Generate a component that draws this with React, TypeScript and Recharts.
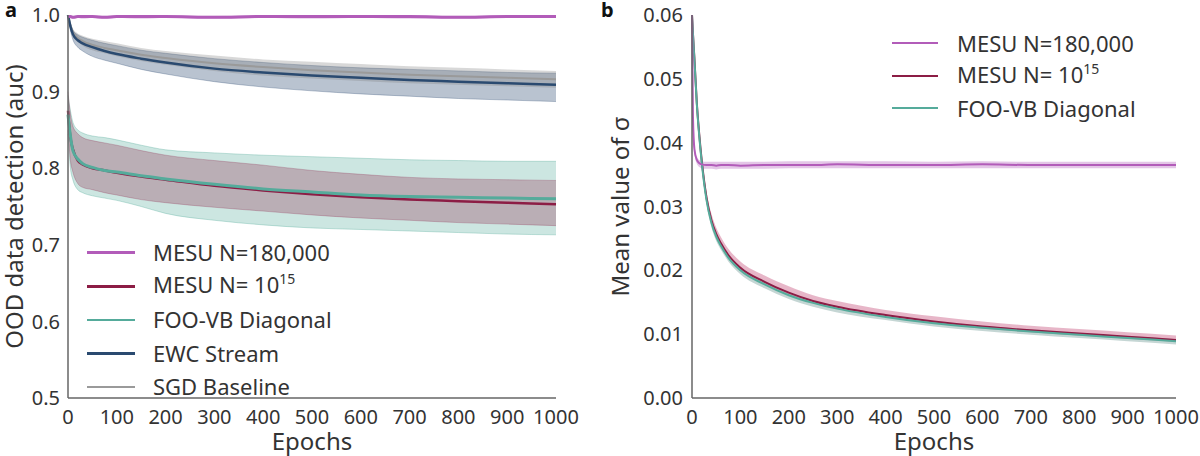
import React from "react";
import { Area, ComposedChart, Label, Legend, Line, XAxis, YAxis } from "recharts";

const FONT = "'Noto Sans', 'Open Sans', sans-serif";

const PURPLE = "#b25cb9";
const MAROON = "#8c1d45";
const TEAL = "#55ab9b";
const NAVY = "#2a4a70";
const GRAY = "#9a9a9a";

const xTicks = [0, 100, 200, 300, 400, 500, 600, 700, 800, 900, 1000];
const oodTicks = [0.5, 0.6, 0.7, 0.8, 0.9, 1.0];
const sigmaTicks = [0, 0.01, 0.02, 0.03, 0.04, 0.05, 0.06];

// panel a: OOD detection (auc)
const epochsA = [0, 5, 10, 20, 30, 50, 75, 100, 150, 200, 300, 400, 500, 600, 700, 800, 900, 1000];
const mesu180kA = [0.998, 0.998, 0.997, 0.998, 0.998, 0.998, 0.997, 0.998, 0.998, 0.998, 0.997, 0.998, 0.998, 0.998, 0.998, 0.997, 0.998, 0.998];
const mesu180kLoA = [0.995, 0.995, 0.995, 0.996, 0.995, 0.996, 0.995, 0.996, 0.995, 0.996, 0.995, 0.996, 0.995, 0.996, 0.995, 0.995, 0.996, 0.996];
const mesu180kHiA = [1.0, 1.0, 0.999, 1.0, 1.0, 1.0, 0.999, 1.0, 1.0, 1.0, 0.999, 1.0, 1.0, 1.0, 1.0, 0.999, 1.0, 1.0];
const mesu1e15A = [0.875, 0.84, 0.825, 0.81, 0.805, 0.8, 0.797, 0.794, 0.789, 0.785, 0.777, 0.771, 0.766, 0.762, 0.759, 0.757, 0.755, 0.753];
const mesu1e15LoA = [0.85, 0.81, 0.795, 0.78, 0.775, 0.772, 0.768, 0.765, 0.759, 0.755, 0.749, 0.744, 0.739, 0.735, 0.732, 0.729, 0.727, 0.725];
const mesu1e15HiA = [0.9, 0.87, 0.855, 0.845, 0.84, 0.836, 0.833, 0.83, 0.823, 0.817, 0.81, 0.804, 0.797, 0.792, 0.788, 0.786, 0.785, 0.784];
const fooVbA = [0.87, 0.842, 0.823, 0.812, 0.806, 0.801, 0.797, 0.795, 0.79, 0.786, 0.779, 0.773, 0.769, 0.765, 0.763, 0.762, 0.761, 0.76];
const fooVbLoA = [0.845, 0.8, 0.785, 0.772, 0.768, 0.764, 0.761, 0.758, 0.75, 0.741, 0.732, 0.726, 0.722, 0.72, 0.718, 0.716, 0.714, 0.713];
const fooVbHiA = [0.895, 0.875, 0.86, 0.85, 0.846, 0.842, 0.84, 0.837, 0.83, 0.824, 0.82, 0.817, 0.815, 0.813, 0.811, 0.81, 0.809, 0.809];
const ewcA = [1.0, 0.985, 0.975, 0.967, 0.963, 0.958, 0.953, 0.949, 0.943, 0.938, 0.93, 0.925, 0.921, 0.918, 0.915, 0.913, 0.911, 0.909];
const ewcLoA = [1.0, 0.98, 0.968, 0.958, 0.953, 0.946, 0.941, 0.937, 0.929, 0.923, 0.913, 0.906, 0.901, 0.897, 0.894, 0.891, 0.889, 0.887];
const ewcHiA = [1.0, 0.988, 0.98, 0.974, 0.971, 0.967, 0.963, 0.96, 0.954, 0.95, 0.943, 0.938, 0.934, 0.931, 0.929, 0.927, 0.925, 0.924];
const sgdA = [1.0, 0.987, 0.978, 0.97, 0.966, 0.961, 0.957, 0.954, 0.948, 0.944, 0.937, 0.932, 0.928, 0.925, 0.922, 0.92, 0.918, 0.916];
const sgdLoA = [1.0, 0.984, 0.973, 0.965, 0.96, 0.954, 0.95, 0.946, 0.94, 0.935, 0.927, 0.921, 0.917, 0.914, 0.911, 0.909, 0.907, 0.905];
const sgdHiA = [1.0, 0.99, 0.982, 0.976, 0.973, 0.969, 0.966, 0.963, 0.957, 0.953, 0.947, 0.942, 0.939, 0.936, 0.933, 0.931, 0.929, 0.927];

// panel b: mean value of sigma
const epochsB = [0, 2, 5, 10, 15, 20, 30, 40, 50, 60, 75, 100, 150, 200, 250, 300, 400, 500, 600, 700, 800, 900, 1000];
const mesu180kB = [0.06, 0.044, 0.039, 0.0373, 0.0368, 0.0366, 0.0365, 0.0365, 0.0364, 0.0365, 0.0365, 0.0364, 0.0365, 0.0365, 0.0365, 0.0366, 0.0365, 0.0365, 0.0366, 0.0365, 0.0365, 0.0365, 0.0365];
const mesu180kLoB = [0.0598, 0.0435, 0.0384, 0.0367, 0.0362, 0.036, 0.0359, 0.0359, 0.0358, 0.0359, 0.0359, 0.0359, 0.0359, 0.036, 0.036, 0.036, 0.036, 0.036, 0.036, 0.036, 0.036, 0.036, 0.036];
const mesu180kHiB = [0.0602, 0.0446, 0.0396, 0.0378, 0.0373, 0.0371, 0.037, 0.037, 0.037, 0.037, 0.037, 0.037, 0.037, 0.0371, 0.0371, 0.0371, 0.0371, 0.037, 0.0371, 0.037, 0.037, 0.037, 0.037];
const mesu1e15B = [0.06, 0.057, 0.0532, 0.0462, 0.0413, 0.0373, 0.0314, 0.0279, 0.0257, 0.0242, 0.0224, 0.0204, 0.0182, 0.0165, 0.0152, 0.0143, 0.013, 0.012, 0.0112, 0.0106, 0.0101, 0.0096, 0.0091];
const mesu1e15LoB = [0.0598, 0.0567, 0.0529, 0.0459, 0.041, 0.037, 0.0311, 0.0276, 0.0254, 0.0239, 0.0221, 0.0201, 0.0179, 0.0162, 0.0149, 0.014, 0.0127, 0.0117, 0.0109, 0.0103, 0.0098, 0.0093, 0.0088];
const mesu1e15HiB = [0.0603, 0.0576, 0.054, 0.0472, 0.0423, 0.0383, 0.0324, 0.0289, 0.0267, 0.0252, 0.0234, 0.0214, 0.0192, 0.0175, 0.0161, 0.0152, 0.0138, 0.0128, 0.012, 0.0113, 0.0108, 0.0103, 0.0098];
const fooVbB = [0.06, 0.057, 0.053, 0.046, 0.041, 0.037, 0.031, 0.0275, 0.0253, 0.0238, 0.022, 0.02, 0.0178, 0.0161, 0.0149, 0.014, 0.0127, 0.0117, 0.011, 0.0104, 0.0099, 0.0094, 0.0089];
const fooVbLoB = [0.0598, 0.0565, 0.0523, 0.0453, 0.0403, 0.0363, 0.0303, 0.0268, 0.0246, 0.0232, 0.0214, 0.0194, 0.0172, 0.0155, 0.0143, 0.0134, 0.0122, 0.0112, 0.0105, 0.0099, 0.0094, 0.0089, 0.0084];
const fooVbHiB = [0.0602, 0.0574, 0.0535, 0.0465, 0.0415, 0.0375, 0.0315, 0.028, 0.0258, 0.0242, 0.0224, 0.0204, 0.0181, 0.0164, 0.0152, 0.0143, 0.013, 0.012, 0.0113, 0.0107, 0.0102, 0.0097, 0.0092];

const namesA = ["MESU N=180,000", "MESU N= 10^15", "FOO-VB Diagonal", "EWC Stream", "SGD Baseline"];
const namesB = ["MESU N=180,000", "MESU N= 10^15", "FOO-VB Diagonal"];

const rowsA = epochsA.map((epoch, i) => ({
  epoch,
  mesu180k: mesu180kA[i],
  mesu180kBand: [mesu180kLoA[i], mesu180kHiA[i]],
  mesu1e15: mesu1e15A[i],
  mesu1e15Band: [mesu1e15LoA[i], mesu1e15HiA[i]],
  fooVb: fooVbA[i],
  fooVbBand: [fooVbLoA[i], fooVbHiA[i]],
  ewc: ewcA[i],
  ewcBand: [ewcLoA[i], ewcHiA[i]],
  sgd: sgdA[i],
  sgdBand: [sgdLoA[i], sgdHiA[i]],
}));

const rowsB = epochsB.map((epoch, i) => ({
  epoch,
  mesu180k: mesu180kB[i],
  mesu180kBand: [mesu180kLoB[i], mesu180kHiB[i]],
  mesu1e15: mesu1e15B[i],
  mesu1e15Band: [mesu1e15LoB[i], mesu1e15HiB[i]],
  fooVb: fooVbB[i],
  fooVbBand: [fooVbLoB[i], fooVbHiB[i]],
}));

const tickStyle = { fill: "#333", fontSize: 20, fontFamily: FONT };
const axisLine = { stroke: "#666", strokeWidth: 1.5 };
const labelStyle = { fill: "#333", fontSize: 24, fontFamily: FONT, textAnchor: "middle" as const };

function renderName(name: string) {
  const [base, exp] = name.split("^");
  if (!exp) return base;
  return (
    <>
      {base}
      <span style={{ fontSize: 14, position: "relative", top: -9 }}>{exp}</span>
    </>
  );
}

interface LegendItem {
  name: string;
  color: string;
  width: number;
}

function LegendList({ items, rowHeight, lineLength, gap }: { items: LegendItem[]; rowHeight: number; lineLength: number; gap: number }) {
  return (
    <div style={{ fontFamily: FONT, fontSize: 22, color: "#333" }}>
      {items.map((item) => (
        <div key={item.name} style={{ display: "flex", alignItems: "center", height: rowHeight, whiteSpace: "nowrap" }}>
          <div style={{ width: lineLength, height: item.width, background: item.color, marginRight: gap }} />
          <span style={{ lineHeight: `${rowHeight}px` }}>{renderName(item.name)}</span>
        </div>
      ))}
    </div>
  );
}

const legendItemsA: LegendItem[] = [
  { name: namesA[0], color: PURPLE, width: 3 },
  { name: namesA[1], color: MAROON, width: 2.5 },
  { name: namesA[2], color: TEAL, width: 2.5 },
  { name: namesA[3], color: NAVY, width: 2.5 },
  { name: namesA[4], color: GRAY, width: 2.5 },
];

const legendItemsB: LegendItem[] = [
  { name: namesB[0], color: PURPLE, width: 2 },
  { name: namesB[1], color: MAROON, width: 2 },
  { name: namesB[2], color: TEAL, width: 2 },
];

function PanelA() {
  return (
    <ComposedChart width={600} height={456} data={rowsA} margin={{ top: 15, right: 44, bottom: 0, left: 0 }}>
      <XAxis
        dataKey="epoch"
        type="number"
        domain={[0, 1000]}
        ticks={xTicks}
        interval={0}
        height={58}
        tickLine={false}
        tickMargin={6}
        axisLine={axisLine}
        tick={tickStyle}
      >
        <Label value="Epochs" position="insideBottom" offset={6} style={labelStyle} />
      </XAxis>
      <YAxis
        type="number"
        domain={[0.5, 1.0]}
        ticks={oodTicks}
        interval={0}
        width={68}
        tickLine={false}
        tickMargin={2}
        axisLine={axisLine}
        tick={tickStyle}
        tickFormatter={(v: number) => v.toFixed(1)}
        allowDataOverflow
      >
        <Label value="OOD data detection (auc)" angle={-90} position="insideLeft" offset={14} style={labelStyle} />
      </YAxis>
      <Area dataKey="fooVbBand" type="monotone" fill={TEAL} fillOpacity={0.3} stroke={TEAL} strokeOpacity={0.35} strokeWidth={1} isAnimationActive={false} />
      <Area dataKey="mesu1e15Band" type="monotone" fill={MAROON} fillOpacity={0.28} stroke={MAROON} strokeOpacity={0.25} strokeWidth={1} isAnimationActive={false} />
      <Area dataKey="ewcBand" type="monotone" fill={NAVY} fillOpacity={0.33} stroke={NAVY} strokeOpacity={0.3} strokeWidth={1} isAnimationActive={false} />
      <Area dataKey="sgdBand" type="monotone" fill="#7d7d7d" fillOpacity={0.3} stroke="none" isAnimationActive={false} />
      <Area dataKey="mesu180kBand" type="monotone" fill={PURPLE} fillOpacity={0.3} stroke="none" isAnimationActive={false} />
      <Line dataKey="sgd" type="monotone" stroke={GRAY} strokeWidth={2} dot={false} isAnimationActive={false} />
      <Line dataKey="ewc" type="monotone" stroke={NAVY} strokeWidth={2.5} dot={false} isAnimationActive={false} />
      <Line dataKey="mesu1e15" type="monotone" stroke={MAROON} strokeWidth={2.5} dot={false} isAnimationActive={false} />
      <Line dataKey="fooVb" type="monotone" stroke={TEAL} strokeWidth={3} dot={false} isAnimationActive={false} />
      <Line dataKey="mesu180k" type="monotone" stroke={PURPLE} strokeWidth={3} dot={false} isAnimationActive={false} />
      <Legend
        layout="vertical"
        align="center"
        verticalAlign="middle"
        wrapperStyle={{ left: 87, top: 236, width: 320 }}
        content={() => <LegendList items={legendItemsA} rowHeight={33.5} lineLength={48} gap={18} />}
      />
    </ComposedChart>
  );
}

function PanelB() {
  return (
    <ComposedChart width={600} height={456} data={rowsB} margin={{ top: 15, right: 24, bottom: 0, left: 0 }}>
      <XAxis
        dataKey="epoch"
        type="number"
        domain={[0, 1000]}
        ticks={xTicks}
        interval={0}
        height={58}
        tickLine={false}
        tickMargin={6}
        axisLine={axisLine}
        tick={tickStyle}
      >
        <Label value="Epochs" position="insideBottom" offset={6} style={labelStyle} />
      </XAxis>
      <YAxis
        type="number"
        domain={[0, 0.06]}
        ticks={sigmaTicks}
        interval={0}
        width={92}
        tickLine={false}
        tickMargin={3}
        axisLine={axisLine}
        tick={tickStyle}
        tickFormatter={(v: number) => v.toFixed(2)}
        allowDataOverflow
      >
        <Label value="Mean value of σ" angle={-90} position="insideLeft" offset={20} style={labelStyle} />
      </YAxis>
      <Area dataKey="fooVbBand" type="monotone" fill="#6f9993" fillOpacity={0.4} stroke="none" isAnimationActive={false} />
      <Area dataKey="mesu1e15Band" type="monotone" fill="#c0406e" fillOpacity={0.38} stroke="none" isAnimationActive={false} />
      <Area dataKey="mesu180kBand" type="monotone" fill={PURPLE} fillOpacity={0.35} stroke="none" isAnimationActive={false} />
      <Line dataKey="mesu1e15" type="monotone" stroke={MAROON} strokeWidth={2} dot={false} isAnimationActive={false} />
      <Line dataKey="fooVb" type="monotone" stroke={TEAL} strokeWidth={2} dot={false} isAnimationActive={false} />
      <Line dataKey="mesu180k" type="monotone" stroke={PURPLE} strokeWidth={2} dot={false} isAnimationActive={false} />
      <Legend
        layout="vertical"
        align="center"
        verticalAlign="middle"
        wrapperStyle={{ left: 292, top: 27, width: 300 }}
        content={() => <LegendList items={legendItemsB} rowHeight={32.5} lineLength={46} gap={19} />}
      />
    </ComposedChart>
  );
}

export default function App() {
  const letter: React.CSSProperties = {
    position: "absolute",
    top: 0,
    fontFamily: FONT,
    fontWeight: 700,
    fontSize: 20,
    lineHeight: "20px",
    color: "#111",
  };
  return (
    <div style={{ position: "absolute", left: 0, top: 0, width: 1200, height: 456, background: "#fff" }}>
      <div style={{ position: "absolute", left: 0, top: 0 }}>
        <PanelA />
      </div>
      <div style={{ position: "absolute", left: 600, top: 0 }}>
        <PanelB />
      </div>
      <div style={{ ...letter, left: 5 }}>a</div>
      <div style={{ ...letter, left: 601 }}>b</div>
    </div>
  );
}
